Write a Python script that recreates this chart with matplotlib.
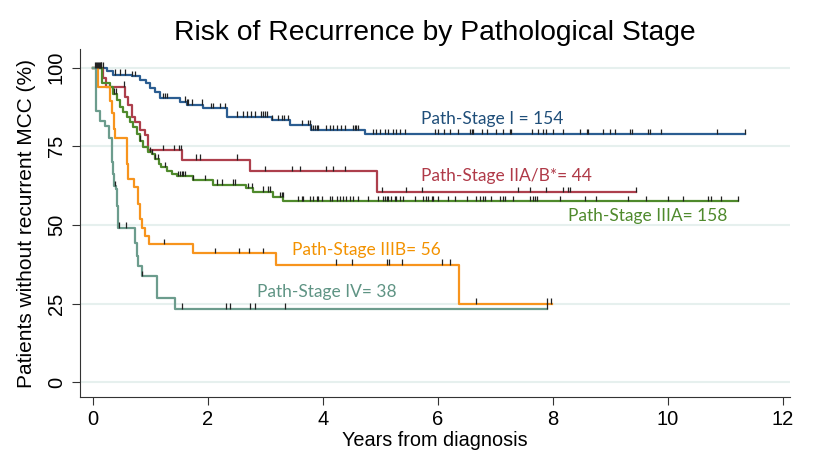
import numpy as np
import matplotlib
matplotlib.use('Agg')
import matplotlib.pyplot as plt

# Kaplan-Meier steps (years, % without recurrence)
stage1_t = [0, 0.24, 0.35, 0.67, 0.82, 0.93, 0.99, 1.08, 1.17, 1.51, 1.63, 1.92, 2.33, 3.11, 3.43, 3.80, 4.73]
stage1_s = [100, 98.9, 97.8, 97.2, 96.2, 95.1, 93.5, 92.4, 90.3, 89.2, 88.2, 87.1, 84.4, 83.4, 81.8, 80.2, 78.8]
stage1_end = 11.35
stage1_cens = [0.04, 0.07, 0.10, 0.14, 0.18, 0.38, 0.47, 0.56, 0.67, 0.73, 1.22, 1.25, 1.28, 1.60, 1.63,
               1.65, 1.72, 1.89, 2.06, 2.09, 2.21, 2.30, 2.50, 2.61, 2.68, 2.75, 2.82, 2.93, 2.96, 2.99,
               3.02, 3.11, 3.22, 3.28, 3.33, 3.39, 3.63, 3.74, 3.77, 3.80, 3.83, 3.86, 3.89, 3.92, 4.06,
               4.12, 4.18, 4.24, 4.31, 4.38, 4.53, 4.56, 4.58, 4.61, 4.87, 4.93, 4.99, 5.08, 5.14, 5.22,
               5.28, 5.34, 5.43, 5.95, 6.01, 6.10, 6.21, 6.35, 6.56, 6.59, 6.62, 6.76, 6.85, 7.02, 7.14,
               7.25, 7.28, 7.63, 7.75, 7.83, 7.89, 8.00, 8.18, 8.47, 8.59, 8.61, 8.87, 8.99, 9.08, 9.34,
               9.37, 9.66, 9.69, 9.89, 10.85, 11.34]

stage2_t = [0, 0.18, 0.22, 0.56, 0.61, 0.67, 0.73, 0.82, 0.90, 0.96, 1.54, 2.73, 4.94]
stage2_s = [100, 96.7, 94.0, 90.8, 88.2, 84.4, 82.8, 80.2, 78.6, 73.8, 70.8, 67.1, 60.5]
stage2_end = 9.44
stage2_cens = [0.14, 0.54, 1.22, 1.41, 1.50, 1.53, 1.80, 1.86, 2.50, 2.99, 3.46, 3.60, 4.06, 4.18, 4.38,
               5.02, 5.45, 5.72, 7.40, 7.60, 7.89, 8.18, 8.27, 8.30, 9.44]

stage3a_t = [0, 0.15, 0.30, 0.35, 0.41, 0.47, 0.53, 0.59, 0.64, 0.70, 0.76, 0.82, 0.87, 0.96, 1.02,
             1.08, 1.14, 1.19, 1.28, 1.37, 1.46, 1.74, 2.09, 2.67, 2.79, 3.14, 3.31]
stage3a_s = [100, 95.1, 93.8, 91.7, 89.6, 87.4, 85.8, 84.2, 82.6, 81.0, 78.9, 76.8, 74.7, 73.1, 72.5,
             70.9, 69.3, 68.3, 67.2, 66.1, 65.6, 64.3, 62.8, 61.7, 60.6, 58.8, 57.6]
stage3a_end = 11.22
stage3a_cens = [0.12, 0.36, 0.40, 0.82, 0.99, 1.02, 1.08, 1.13, 1.25, 1.48, 1.51, 1.54, 1.57, 1.60, 1.74,
                1.95, 2.15, 2.24, 2.44, 2.47, 2.70, 2.76, 2.96, 3.05, 3.08, 3.25, 3.28, 3.30, 3.57, 3.63,
                3.66, 3.77, 3.83, 3.89, 3.92, 3.98, 4.12, 4.15, 4.24, 4.30, 4.35, 4.41, 4.47, 4.53, 4.61,
                4.79, 4.96, 5.05, 5.08, 5.11, 5.14, 5.19, 5.25, 5.28, 5.34, 5.40, 5.60, 5.74, 5.80, 5.83,
                5.89, 5.92, 6.00, 6.18, 6.30, 6.50, 6.67, 6.73, 6.79, 6.82, 6.93, 7.08, 7.14, 7.17, 7.31,
                7.60, 7.66, 7.69, 7.72, 8.12, 8.56, 8.76, 9.31, 9.63, 10.0, 10.27, 10.70, 10.76, 10.93,
                11.22]

stage3b_t = [0, 0.09, 0.30, 0.33, 0.36, 0.38, 0.59, 0.61, 0.72, 0.79, 0.82, 0.86, 0.90, 0.97, 1.74, 3.19, 6.37]
stage3b_s = [100, 94.0, 89.3, 85.7, 80.4, 77.5, 69.5, 64.5, 61.9, 56.5, 51.8, 49.1, 46.4, 43.8, 41.1, 37.3, 24.9]
stage3b_end = 7.98
stage3b_cens = [0.05, 0.08, 1.24, 2.13, 2.54, 2.72, 2.95, 4.22, 4.51, 5.12, 5.15, 5.38, 6.07, 6.21, 6.67,
                7.90, 7.97]

stage4_t = [0, 0.06, 0.12, 0.20, 0.28, 0.33, 0.35, 0.37, 0.40, 0.42, 0.44, 0.73, 0.76, 0.79, 0.85, 1.11, 1.43]
stage4_s = [100, 86.1, 83.0, 81.3, 77.5, 70.0, 66.1, 62.4, 61.3, 56.0, 49.1, 44.3, 40.0, 36.8, 33.6, 26.7, 23.4]
stage4_end = 7.90
stage4_cens = [0.39, 0.46, 0.57, 0.85, 1.54, 2.31, 2.38, 2.74, 2.82, 3.34, 7.90]

labels = ['Path-Stage I = 154', 'Path-Stage IIA/B*= 44', 'Path-Stage IIIA= 158',
          'Path-Stage IIIB= 56', 'Path-Stage IV= 38']
line_colors = ['#2b5d91', '#ad3f4c', '#4f8a2c', '#f7941d', '#6c9c8d']
text_colors = ['#1f4e79', '#b03a48', '#4f8a2c', '#f39200', '#5f9484']
label_pos = [(5.70, 83.7), (5.70, 65.5), (8.26, 52.7), (3.46, 41.9), (2.85, 28.8)]

curves = [
    (stage1_t, stage1_s, stage1_end, stage1_cens),
    (stage2_t, stage2_s, stage2_end, stage2_cens),
    (stage3a_t, stage3a_s, stage3a_end, stage3a_cens),
    (stage3b_t, stage3b_s, stage3b_end, stage3b_cens),
    (stage4_t, stage4_s, stage4_end, stage4_cens),
]

fig = plt.figure(figsize=(8.4, 4.74), dpi=100)
ax = fig.add_axes([0.095, 0.162, 0.845, 0.735])

for y in [0, 25, 50, 75, 100]:
    ax.axhline(y, color='#e6f0ee', lw=1.5, zorder=0)

for (t, s, end, cens), col in zip(curves, line_colors):
    tt = np.append(t, end)
    ss = np.append(s, s[-1])
    ax.step(tt, ss, where='post', color=col, lw=1.6, zorder=2)
    # censor marks sit on top of the curve
    idx = np.searchsorted(t, cens, side='right') - 1
    cy = np.array(s)[idx]
    ax.vlines(cens, cy, cy + 1.7, color='#222222', lw=0.9, zorder=3)

for lab, (x, y), col in zip(labels, label_pos, text_colors):
    ax.text(x, y, lab, color=col, fontsize=12.5, family='Lato', ha='left', va='center')

ax.set_xlim(-0.23, 12.12)
ax.set_ylim(-4.8, 106)
ax.set_xticks([0, 2, 4, 6, 8, 10, 12])
ax.set_yticks([0, 25, 50, 75, 100])
ax.set_yticklabels(['0', '25', '50', '75', '100'], rotation=90, va='center')
ax.tick_params(labelsize=14.5, length=6, color='#333333')
ax.tick_params(axis='y', pad=4)
for lab in ax.get_xticklabels() + ax.get_yticklabels():
    lab.set_family('Liberation Sans')
ax.spines['top'].set_visible(False)
ax.spines['right'].set_visible(False)
for sp in ['left', 'bottom']:
    ax.spines[sp].set_color('#333333')

ax.set_xlabel('Years from diagnosis', fontsize=14.3, family='Liberation Sans', labelpad=1)
ax.set_ylabel('Patients without recurrent MCC (%)', fontsize=15, family='Liberation Sans', labelpad=8)
fig.text(0.518, 0.93, 'Risk of Recurrence by Pathological Stage', fontsize=20.3,
         family='Liberation Sans', ha='center', va='center')

fig.savefig('out.png', dpi=100)
